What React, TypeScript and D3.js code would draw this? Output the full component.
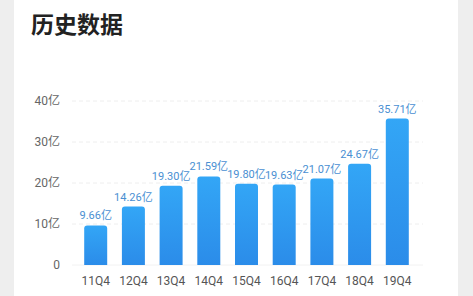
import React, { useEffect, useRef } from 'react';
import * as d3 from 'd3';

const quarters = ['11Q4', '12Q4', '13Q4', '14Q4', '15Q4', '16Q4', '17Q4', '18Q4', '19Q4'];
const amounts = [9.66, 14.26, 19.3, 21.59, 19.8, 19.63, 21.07, 24.67, 35.71];
const yTicks = [0, 10, 20, 30, 40];

const App: React.FC = () => {
  const chartRef = useRef<SVGSVGElement | null>(null);

  useEffect(() => {
    if (!chartRef.current) return;
    const width = 473;
    const height = 296;

    const svg = d3.select(chartRef.current)
      .attr('width', width)
      .attr('height', height);
    svg.selectAll('*').remove();

    const font = "Roboto, 'Noto Sans CJK SC', sans-serif";

    // page background + white card
    svg.append('rect').attr('width', width).attr('height', height).attr('fill', '#eeeeee');
    svg.append('rect').attr('x', 14).attr('width', 444).attr('height', height).attr('fill', '#ffffff');

    svg.append('text')
      .attr('x', 31)
      .attr('y', 33)
      .attr('font-family', "'Noto Sans CJK SC', sans-serif")
      .attr('font-size', 23)
      .attr('font-weight', 'bold')
      .attr('fill', '#222')
      .text('历史数据');

    const xScale = d3.scaleBand()
      .domain(quarters)
      .range([69.5, 423.5])
      .padding(0.39);

    const yScale = d3.scaleLinear()
      .domain([0, 40])
      .range([265, 101]);

    const defs = svg.append('defs');
    const grad = defs.append('linearGradient')
      .attr('id', 'barGrad')
      .attr('x1', 0).attr('y1', 0).attr('x2', 0).attr('y2', 1);
    grad.append('stop').attr('offset', '0%').attr('stop-color', '#33a6f6');
    grad.append('stop').attr('offset', '100%').attr('stop-color', '#2b8ce9');

    // grid lines
    svg.append('g')
      .selectAll('line')
      .data(yTicks.filter(t => t > 0))
      .enter().append('line')
      .attr('x1', 72)
      .attr('x2', 423)
      .attr('y1', d => yScale(d))
      .attr('y2', d => yScale(d))
      .attr('stroke', '#eeeeee')
      .attr('stroke-dasharray', '4,3');

    svg.append('line')
      .attr('x1', 72).attr('x2', 423)
      .attr('y1', yScale(0)).attr('y2', yScale(0))
      .attr('stroke', '#f2f2f2');

    // y axis labels
    svg.append('g')
      .selectAll('text')
      .data(yTicks)
      .enter().append('text')
      .attr('x', 60)
      .attr('y', d => yScale(d))
      .attr('dy', '0.35em')
      .attr('text-anchor', 'end')
      .attr('font-family', font)
      .attr('font-size', 12)
      .attr('fill', '#666')
      .text(d => (d === 0 ? '0' : `${d}亿`));

    // bars with rounded tops
    const r = 3;
    svg.append('g')
      .selectAll('path')
      .data(amounts)
      .enter().append('path')
      .attr('fill', 'url(#barGrad)')
      .attr('d', (d, i) => {
        const x0 = xScale(quarters[i]) as number;
        const w = xScale.bandwidth();
        const y0 = yScale(d);
        const yb = yScale(0);
        return `M${x0},${yb}V${y0 + r}Q${x0},${y0} ${x0 + r},${y0}H${x0 + w - r}Q${x0 + w},${y0} ${x0 + w},${y0 + r}V${yb}Z`;
      });

    // value labels
    svg.append('g')
      .selectAll('text')
      .data(amounts)
      .enter().append('text')
      .attr('x', (d, i) => (xScale(quarters[i]) as number) + xScale.bandwidth() / 2)
      .attr('y', d => yScale(d) - 6)
      .attr('text-anchor', 'middle')
      .attr('font-family', font)
      .attr('font-size', 11)
      .attr('fill', '#4a8fd2')
      .text(d => `${d.toFixed(2)}亿`);

    // x axis labels
    svg.append('g')
      .selectAll('text')
      .data(quarters)
      .enter().append('text')
      .attr('x', d => (xScale(d) as number) + xScale.bandwidth() / 2)
      .attr('y', 285)
      .attr('text-anchor', 'middle')
      .attr('font-family', font)
      .attr('font-size', 12)
      .attr('fill', '#555')
      .text(d => d);
  }, []);

  return <svg ref={chartRef} style={{ position: 'absolute', left: 0, top: 0 }}></svg>;
};

export default App;
